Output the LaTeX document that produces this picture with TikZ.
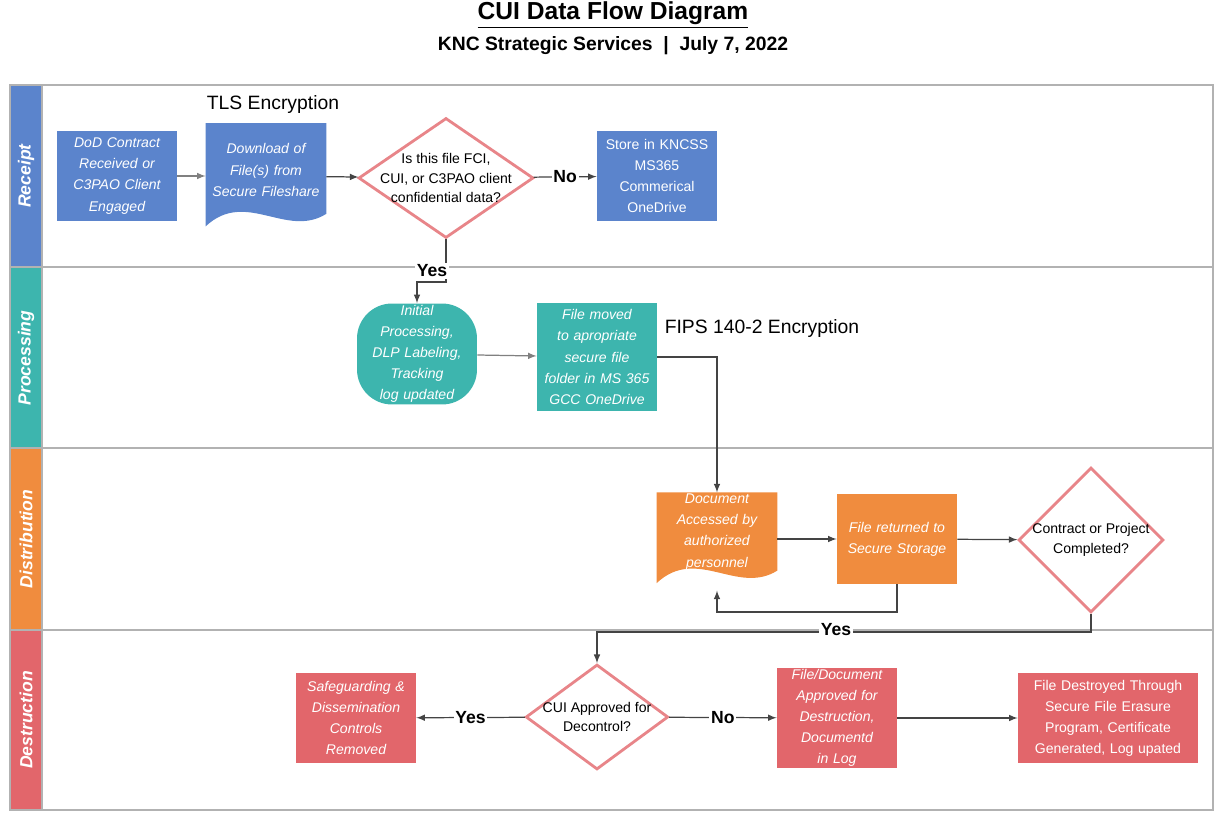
\documentclass[tikz,border=0pt]{standalone}
\usepackage{fontspec}
\setmainfont{Liberation Sans}
\usetikzlibrary{shapes.geometric}
\definecolor{cuiblue}{HTML}{5B84CC}
\definecolor{cuiteal}{HTML}{3DB5AE}
\definecolor{cuiorange}{HTML}{F08C3E}
\definecolor{cuired}{HTML}{E2666B}
\definecolor{cuiline}{HTML}{444444}
\tikzset{
  box/.style={rectangle, text=white, font=\itshape\fontsize{8}{12}\selectfont, align=center,
    execute at begin node={\hyphenpenalty=10000}, text width=2.15cm, minimum width=2.4cm, inner sep=1pt},
  decide/.style={diamond, draw=cuired!80, line width=1.6pt, fill=white, inner sep=0pt},
  dtext/.style={font=\fontsize{8}{11}\selectfont, align=center},
  lane/.style={draw=gray!60, line width=1pt},
  lanelabel/.style={rotate=90, text=white, font=\bfseries\itshape\fontsize{10}{12}\selectfont},
  flow/.style={draw=cuiline, line width=0.7pt, -latex},
  tag/.style={font=\bfseries\fontsize{10}{12}\selectfont, fill=white, inner sep=1pt}
}
\newcommand{\docfill}[2]{%
  \fill[#2] (#1.north west) -- (#1.north east) -- ([yshift=0.3cm]#1.south east)
    .. controls ([xshift=-0.8cm,yshift=-0.2cm]#1.south east) and ([xshift=0.8cm,yshift=0.8cm]#1.south west)
    .. ([yshift=0.05cm]#1.south west) -- cycle;}
\begin{document}
\begin{tikzpicture}[x=0.02cm, y=-0.02cm]
\useasboundingbox (0,0) rectangle (1225,817);
% title
\node[font=\bfseries\fontsize{14}{16}\selectfont] (title) at (613,15) {\underline{CUI Data Flow Diagram}};
\node[font=\bfseries\fontsize{11}{13}\selectfont] (subtitle) at (613,46) {KNC Strategic Services \ | \ July 7, 2022};
% lanes
\fill[cuiblue] (10,85) rectangle (42,267);
\fill[cuiteal] (10,267) rectangle (42,448);
\fill[cuiorange] (10,448) rectangle (42,630);
\fill[cuired] (10,630) rectangle (42,810);
\draw[lane] (10,85) rectangle (1213,810);
\draw[lane] (10,267) -- (1213,267);
\draw[lane] (10,448) -- (1213,448);
\draw[lane] (10,630) -- (1213,630);
\draw[lane] (42,85) -- (42,810);
\node[lanelabel] (lrec) at (26,176) {Receipt};
\node[lanelabel] (lpro) at (26,358) {Processing};
\node[lanelabel] (ldis) at (26,539) {Distribution};
\node[lanelabel] (ldes) at (26,720) {Destruction};

% receipt
\node[box, fill=cuiblue, minimum height=1.8cm] (dod) at (117,176) {DoD Contract Received or C3PAO Client Engaged};
\node[box, minimum height=2.1cm] (download) at (266,176) {};
\docfill{download}{cuiblue}
\node[box] at (266,170) {Download of File(s) from Secure Fileshare};
\node[font=\fontsize{11}{13}\selectfont] (tls) at (273,105) {TLS Encryption};
\node[decide, minimum width=3.5cm, minimum height=2.4cm, label={[dtext]center:Is this file FCI,\\CUI, or C3PAO client\\confidential data?}] (isfci) at (446,178) {};
\node[box, fill=cuiblue, minimum height=1.8cm, font=\fontsize{8}{12}\selectfont] (store) at (657,176) {Store in KNCSS MS365 Commerical OneDrive};

% processing
\node[box, fill=cuiteal, minimum height=1.85cm, rounded corners=0.7cm] (initial) at (417,354) {Initial Processing, DLP Labeling, Tracking log updated};
\node[box, fill=cuiteal, minimum height=2.15cm] (moved) at (597,357) {File moved to apropriate secure file folder in MS 365 GCC OneDrive};
\node[font=\fontsize{11}{13}\selectfont] (fips) at (762,329) {FIPS 140-2 Encryption};

% distribution
\node[box, minimum height=1.85cm] (accessed) at (717,539) {};
\docfill{accessed}{cuiorange}
\node[box] at (717,532) {Document Accessed by authorized personnel};
\node[box, fill=cuiorange, minimum height=1.8cm] (returned) at (897,539) {File returned to Secure Storage};
\node[decide, minimum width=2.9cm, minimum height=2.9cm, label={[dtext]center:Contract or Project\\Completed?}] (done) at (1091,540) {};

% destruction
\node[decide, minimum width=2.85cm, minimum height=2.1cm, label={[dtext]center:CUI Approved for\\Decontrol?}] (decontrol) at (597,717) {};
\node[box, fill=cuired, minimum height=1.8cm] (safe) at (356,718) {Safeguarding \& Dissemination Controls Removed};
\node[box, fill=cuired, minimum height=1.8cm] (approved) at (837,718) {File/Document Approved for Destruction, Documentd in Log};
\node[box, fill=cuired, minimum height=1.8cm, text width=3.3cm, minimum width=3.6cm, font=\fontsize{8}{12}\selectfont] (destroyed) at (1108,718) {File Destroyed Through Secure File Erasure Program, Certificate Generated, Log upated};

% connectors
\coordinate (c1) at (446,282);
\coordinate (c2) at (717,357);
\coordinate (c3) at (897,612);
\coordinate (c4) at (717,612);
\coordinate (c5) at (1091,632);
\coordinate (c6) at (597,632);
\draw[flow, draw=gray] (dod) -- (download);
\draw[flow] (download) -- (isfci);
\draw[flow] (isfci) -- node[tag] {No} (store);
\draw[flow] (isfci.south) -- (c1) -| (initial.north);
\node[tag] (yes1) at (432,271) {Yes};
\draw[flow, draw=gray] (initial) -- (moved);
\draw[flow] (moved.east) -- (c2) -- (accessed.north);
\draw[flow] (accessed) -- (returned);
\draw[flow] (returned.south) -- (c3) -- (c4) -- ([yshift=-0.1cm]accessed.south);
\draw[flow] (returned) -- (done);
\draw[flow] (done.south) -- (c5) -- (c6) -- (decontrol.north);
\node[tag] (yes2) at (836,630) {Yes};
\draw[flow] (decontrol) -- node[tag] {Yes} (safe);
\draw[flow] (decontrol) -- node[tag] {No} (approved);
\draw[flow] (approved) -- (destroyed);
\end{tikzpicture}
\end{document}
